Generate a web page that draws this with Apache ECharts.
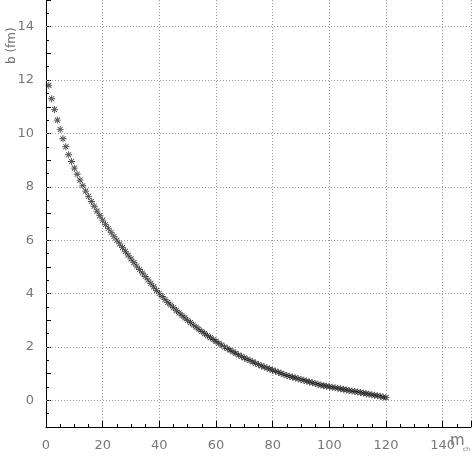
<!DOCTYPE html>
<html><head><meta charset="utf-8">
<script src="https://cdn.jsdelivr.net/npm/echarts@6/dist/echarts.min.js"></script>
<style>html,body{margin:0;padding:0;background:#fff}#c{width:474px;height:458px}</style>
</head><body><div id="c"></div>
<script>
const mValues = Array.from({length:120},(_,i)=>i+1);
const bValues = [
11.8,11.3,10.9,10.5,10.15,9.8,9.5,9.2,8.95,8.7,
8.47,8.25,8.04,7.84,7.64,7.45,7.27,7.09,6.92,6.75,
6.59,6.44,6.29,6.14,6.0,5.86,5.72,5.58,5.44,5.3,
5.16,5.03,4.9,4.77,4.64,4.51,4.38,4.25,4.12,4.0,
3.89,3.78,3.67,3.57,3.47,3.37,3.27,3.18,3.09,3.0,
2.91,2.82,2.74,2.66,2.58,2.5,2.42,2.35,2.28,2.21,
2.14,2.07,2.0,1.94,1.88,1.82,1.76,1.7,1.64,1.59,
1.54,1.49,1.44,1.39,1.34,1.29,1.25,1.21,1.17,1.13,
1.09,1.05,1.01,0.97,0.93,0.9,0.87,0.84,0.81,0.78,
0.75,0.72,0.69,0.66,0.63,0.6,0.57,0.55,0.53,0.51,
0.49,0.47,0.45,0.43,0.41,0.39,0.37,0.35,0.33,0.31,
0.29,0.27,0.25,0.23,0.21,0.19,0.17,0.15,0.12,0.1];
const yGridValues = [0,2,4,6,8,10,12,14];
const data = mValues.map((m,i)=>[m,bValues[i]]);
const star = 'path://M-0.12,-1L0.12,-1L0.12,1L-0.12,1ZM-1,-0.12L1,-0.12L1,0.12L-1,0.12ZM-0.8,-0.63L-0.63,-0.8L0.8,0.63L0.63,0.8ZM-0.8,0.63L-0.63,0.8L0.8,-0.63L0.63,-0.8Z';
const grey='#777';
const chart = echarts.init(document.getElementById('c'));
chart.setOption({
  animation:false,
  grid:{left:46,right:0,top:0,bottom:31},
  xAxis:{type:'value',min:0,max:150,interval:20,
    axisLine:{onZero:false,lineStyle:{color:'#000'}},
    axisTick:{inside:true,length:6,lineStyle:{color:'#000'}},
    minorTick:{show:true,splitNumber:4,length:3,lineStyle:{color:'#000'}},
    axisLabel:{color:grey,fontSize:13,fontFamily:'DejaVu Sans',margin:12,formatter:v=>v>140?'':v},
    splitLine:{show:true,lineStyle:{color:'#999',type:[1,2]}}},
  yAxis:{type:'value',min:-1,max:15,interval:1,
    axisLine:{onZero:false,lineStyle:{color:'#000'}},
    axisTick:{inside:true,length:5,lineStyle:{color:'#000'}},
    minorTick:{show:true,splitNumber:2,length:3,lineStyle:{color:'#000'}},
    axisLabel:{color:grey,fontSize:13,fontFamily:'DejaVu Sans',margin:12,
      formatter:v=>(v%2===0&&v>=0&&v<=14)?String(v):''},
    splitLine:{show:false}},
  graphic:[
    {type:'text',x:6,y:64,rotation:Math.PI/2,style:{text:'b (fm)',fill:grey,font:'12px DejaVu Sans'}},
    {type:'text',x:450,y:434,style:{text:'m',fill:grey,font:'15px DejaVu Sans'}},
    {type:'text',x:463,y:446,style:{text:'ch',fill:grey,font:'6px DejaVu Sans'}}
  ],
  series:[{type:'scatter',data:data,symbol:star,symbolSize:7,itemStyle:{color:'#111'},z:3,
    markLine:{silent:true,symbol:'none',label:{show:false},
      lineStyle:{color:'#999',type:[1,2],width:1},
      data:yGridValues.map(v=>({yAxis:v}))}}]
});
</script></body></html>
